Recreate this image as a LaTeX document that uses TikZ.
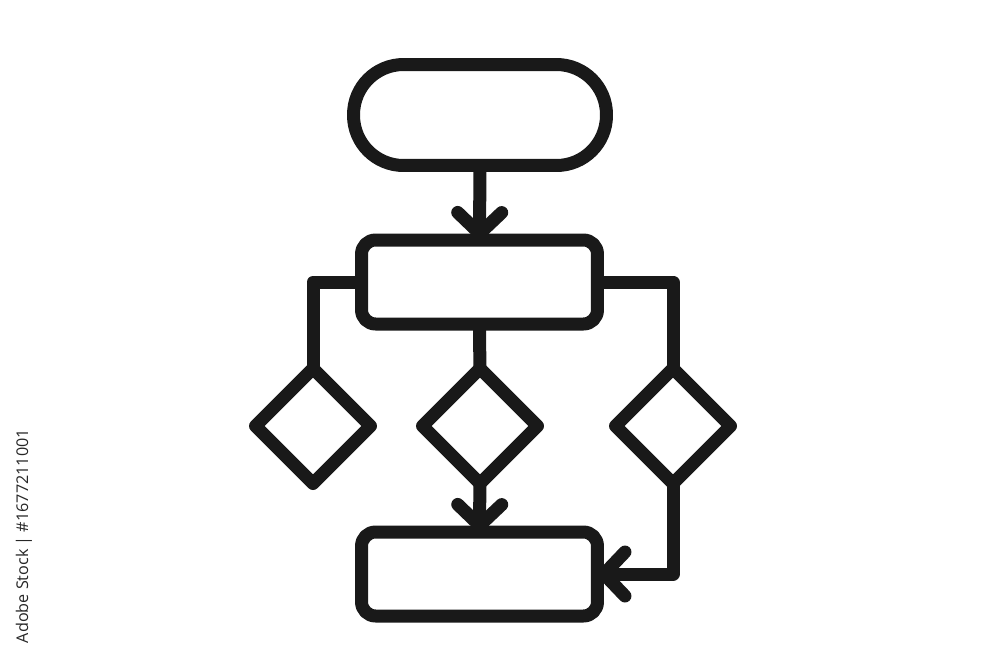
\documentclass[tikz,border=0pt]{standalone}
\usepackage{fontspec}
\setsansfont{Open Sans}
\usetikzlibrary{calc}
\usetikzlibrary{positioning}
\usetikzlibrary{arrows.meta}
\usetikzlibrary{shapes.geometric}

\begin{document}
\begin{tikzpicture}[x=0.02cm,y=-0.02cm,line width=7.4pt,line join=round,draw=black!90,
    every node/.style = {draw,inner sep=0pt,outer sep=0pt},
    terminal/.style = {rectangle,rounded corners=1cm,minimum width=5.06cm,minimum height=2.02cm},
    process/.style = {rectangle,rounded corners=0.28cm,minimum width=4.72cm,minimum height=1.68cm},
    decision/.style = {diamond,minimum width=2.3cm,minimum height=2.3cm},
    >={Straight Barb[round,length=0.42cm,width=0.88cm]}]
\useasboundingbox (0,0) rectangle (1000,667);
\node[terminal] (start) at (480,115) {};
\node[process] (task) at (479.5,282) {};
\node[decision] (d1) at (313,426) {};
\node[decision] (d2) at (480,426) {};
\node[decision] (d3) at (673,426) {};
\node[process] (finish) at (479.5,574) {};
\draw [->] (start) -- (task);
\draw (task) -- (d2);
\draw (task.west) -| (d1.north);
\draw (task.east) -| (d3.north);
\draw [->] (d2) -- (finish);
\draw [->] (d3.south) |- (finish.east);
% side label
\node[draw=none,rotate=90,anchor=west,text=black!85,font=\sffamily\fontsize{9.2}{11}\selectfont] (mark) at (24,643) {Adobe Stock | \#1677211001};
\end{tikzpicture}
\end{document}
